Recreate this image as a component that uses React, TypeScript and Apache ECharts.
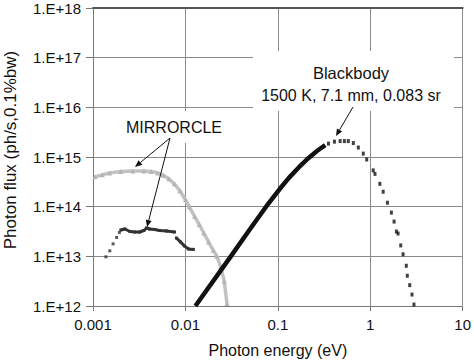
import React, { useEffect, useRef } from "react";
import * as echarts from "echarts";

const FONT = "'Liberation Sans', Arial, Helvetica, sans-serif";

const xTickLabels = ["0.001", "0.01", "0.1", "1", "10"];
const yTickLabels = ["1.E+12", "1.E+13", "1.E+14", "1.E+15", "1.E+16", "1.E+17", "1.E+18"];

// MIRRORCLE (light gray)
const grayEnergy = [0.00105, 0.00126, 0.00151, 0.002, 0.00269, 0.00355, 0.00427, 0.00501, 0.00575, 0.00661, 0.00759, 0.00871, 0.01, 0.011, 0.0126, 0.0141, 0.0158, 0.0178, 0.02, 0.0219, 0.024, 0.0263, 0.0282];
const grayFlux = [3.98e14, 4.37e14, 4.79e14, 5.13e14, 5.25e14, 5.25e14, 5.13e14, 4.79e14, 4.27e14, 3.63e14, 2.88e14, 2.09e14, 1.38e14, 1.0e14, 6.31e13, 4.37e13, 2.95e13, 1.95e13, 1.32e13, 1.0e13, 6.31e12, 3.16e12, 1.12e12];

// MIRRORCLE (dark)
const darkDotEnergy = [0.00138, 0.00152, 0.00165, 0.0018, 0.00193];
const darkDotFlux = [9.77e12, 1.29e13, 1.78e13, 2.4e13, 3.02e13];
const darkAEnergy = [0.002, 0.00221, 0.00251, 0.00283, 0.0032, 0.00355, 0.0038, 0.0041, 0.00465, 0.00525, 0.00625, 0.00762];
const darkAFlux = [3.39e13, 3.55e13, 3.16e13, 3.09e13, 3.09e13, 3.31e13, 3.72e13, 3.55e13, 3.47e13, 3.31e13, 3.24e13, 3.09e13];
const darkBEnergy = [0.008, 0.00883, 0.00975, 0.01076, 0.01219];
const darkBFlux = [2.34e13, 1.95e13, 1.62e13, 1.41e13, 1.38e13];

// Blackbody
const bbLineEnergy = [0.01282, 0.031, 0.0501, 0.0794, 0.1052, 0.1318, 0.1683, 0.2153, 0.265, 0.326];
const bbLineFlux = [1.0e12, 1.0e13, 3.55e13, 1.17e14, 2.29e14, 3.8e14, 6.17e14, 9.55e14, 1.32e15, 1.74e15];
const bbDotEnergy = [0.353, 0.41, 0.472, 0.525, 0.579, 0.656, 0.743, 0.841, 0.916, 1.077, 1.125, 1.271, 1.38, 1.535, 1.694, 1.811, 1.919, 2.0, 2.138, 2.265, 2.455, 2.518, 2.673, 2.831, 2.972];
const bbDotFlux = [1.86e15, 2.04e15, 2.09e15, 2.09e15, 2.09e15, 1.91e15, 1.55e15, 1.17e15, 8.91e14, 5.37e14, 4.57e14, 2.88e14, 2.0e14, 1.2e14, 7.59e13, 5.01e13, 3.16e13, 2.88e13, 1.66e13, 1.1e13, 6.46e12, 4.07e12, 2.63e12, 1.7e12, 1.07e12];

const zip = (a: number[], b: number[]) => a.map((v, i) => [v, b[i]]);

function arrow(x1: number, y1: number, x2: number, y2: number) {
  const ang = Math.atan2(y2 - y1, x2 - x1);
  const L = 7;
  const w = 3;
  const bx = x2 - L * Math.cos(ang);
  const by = y2 - L * Math.sin(ang);
  const px = -Math.sin(ang) * w;
  const py = Math.cos(ang) * w;
  return [
    {
      type: "line",
      z: 60,
      shape: { x1, y1, x2: bx, y2: by },
      style: { stroke: "#111", lineWidth: 1 },
    },
    {
      type: "polygon",
      z: 60,
      shape: { points: [[x2, y2], [bx + px, by + py], [bx - px, by - py]] },
      style: { fill: "#111" },
    },
  ];
}

export default function App() {
  const ref = useRef<HTMLDivElement>(null);
  useEffect(() => {
    if (!ref.current) return;
    const chart = echarts.init(ref.current, undefined, { renderer: "svg" });
    const xIdx = (v: number) => Math.round(Math.log10(v)) + 3;
    const yIdx = (v: number) => Math.round(Math.log10(v)) - 12;
    const grid = "#8a8a8a";
    chart.setOption({
      animation: false,
      backgroundColor: "#fff",
      grid: { left: 93, right: 8, top: 8, bottom: 52, containLabel: false },
      xAxis: [
        {
          type: "log",
          logBase: 10,
          min: 0.001,
          max: 10,
          interval: 1,
          axisLine: { show: true, lineStyle: { color: "#777", width: 1 } },
          axisTick: { show: true, length: 5, lineStyle: { color: "#777" } },
          minorTick: { show: false },
          axisLabel: {
            color: "#111",
            fontSize: 15,
            fontFamily: FONT,
            margin: 11,
            formatter: (v: number) => xTickLabels[xIdx(v)] ?? "",
          },
          splitLine: { show: true, lineStyle: { color: grid, width: 1 } },
          name: "Photon energy (eV)",
          nameLocation: "middle",
          nameGap: 36,
          nameTextStyle: { color: "#111", fontSize: 16, fontFamily: FONT },
        },
        {
          type: "log",
          logBase: 10,
          min: 0.001,
          max: 10,
          interval: 1,
          position: "top",
          axisLine: { show: true, lineStyle: { color: "#555", width: 2 } },
          axisTick: { show: false },
          axisLabel: { show: false },
          splitLine: { show: false },
        },
      ],
      yAxis: {
        type: "log",
        logBase: 10,
        min: 1e12,
        max: 1e18,
        interval: 1,
        axisLine: { show: true, lineStyle: { color: "#777", width: 1 } },
        axisTick: { show: true, length: 7, lineStyle: { color: "#777" } },
        minorTick: { show: false },
        axisLabel: {
          color: "#111",
          fontSize: 15,
          fontFamily: FONT,
          margin: 12,
          formatter: (v: number) => yTickLabels[yIdx(v)] ?? "",
        },
        splitLine: { show: true, lineStyle: { color: grid, width: 1 } },
      },
      series: [
        {
          name: "MIRRORCLE gray",
          type: "line",
          data: zip(grayEnergy, grayFlux),
          lineStyle: { color: "#c2c2c2", width: 3.5 },
          symbol: "triangle",
          symbolSize: 5,
          itemStyle: { color: "#b5b5b5" },
          z: 2,
        },
        {
          name: "MIRRORCLE dots",
          type: "scatter",
          data: zip(darkDotEnergy, darkDotFlux),
          symbol: "rect",
          symbolSize: 3,
          itemStyle: { color: "#333" },
          z: 3,
        },
        {
          name: "MIRRORCLE A",
          type: "line",
          data: zip(darkAEnergy, darkAFlux),
          lineStyle: { color: "#333", width: 3 },
          symbol: "rect",
          symbolSize: 3,
          itemStyle: { color: "#333" },
          z: 3,
        },
        {
          name: "MIRRORCLE B",
          type: "line",
          data: zip(darkBEnergy, darkBFlux),
          lineStyle: { color: "#333", width: 3 },
          symbol: "rect",
          symbolSize: 3,
          itemStyle: { color: "#333" },
          z: 3,
        },
        {
          name: "Blackbody",
          type: "line",
          data: zip(bbLineEnergy, bbLineFlux),
          lineStyle: { color: "#111", width: 4.5, join: "round" },
          symbol: "none",
          z: 4,
        },
        {
          name: "Blackbody dots",
          type: "scatter",
          data: zip(bbDotEnergy, bbDotFlux),
          symbol: "rect",
          symbolSize: [3, 4],
          itemStyle: { color: "#111" },
          z: 4,
        },
      ],
      graphic: [
        { type: "rect", z: 50, shape: { x: 253, y: 51, width: 201, height: 60 }, style: { fill: "#fff" } },
        { type: "rect", z: 50, shape: { x: 118, y: 111, width: 112, height: 32 }, style: { fill: "#fff" } },
        {
          type: "text",
          z: 60,
          x: 10,
          y: 150,
          rotation: Math.PI / 2,
          style: {
            text: "Photon flux (ph/s,0.1%bw)",
            fontSize: 17,
            fontFamily: FONT,
            fill: "#111",
            align: "center",
            verticalAlign: "middle",
          },
        },
        {
          type: "text",
          z: 60,
          x: 174,
          y: 127,
          style: { text: "MIRRORCLE", fontSize: 16, fontFamily: FONT, fill: "#111", align: "center", verticalAlign: "middle" },
        },
        {
          type: "text",
          z: 60,
          x: 351,
          y: 73,
          style: { text: "Blackbody", fontSize: 16.5, fontFamily: FONT, fill: "#111", align: "center", verticalAlign: "middle" },
        },
        {
          type: "text",
          z: 60,
          x: 351,
          y: 95,
          style: { text: "1500 K, 7.1 mm, 0.083 sr", fontSize: 16, fontFamily: FONT, fill: "#111", align: "center", verticalAlign: "middle" },
        },
        ...arrow(170, 138, 135, 167),
        ...arrow(170, 138, 147, 227),
        ...arrow(353, 107, 336, 136),
      ],
    });
    return () => chart.dispose();
  }, []);
  return (
    <div
      ref={ref}
      style={{ position: "fixed", left: 0, top: 0, width: 474, height: 363, background: "#fff" }}
    />
  );
}
